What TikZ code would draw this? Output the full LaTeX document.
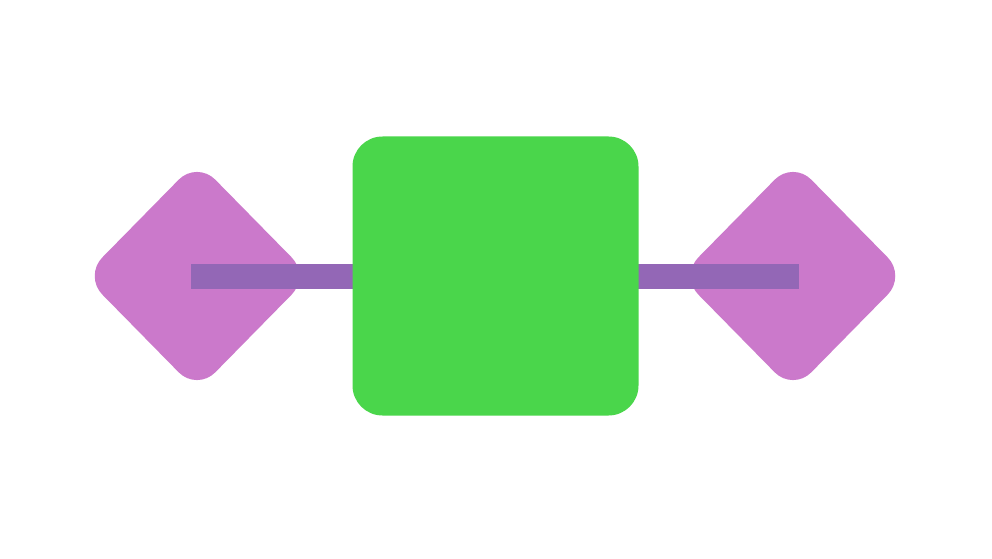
\documentclass[tikz,border=0pt]{standalone}
\usetikzlibrary{shapes.geometric}
\definecolor{pinkfill}{HTML}{CB79CB}
\definecolor{barcol}{HTML}{9367B6}
\definecolor{greenfill}{HTML}{4AD64B}
\tikzset{
  gem/.style={diamond, fill=pinkfill, draw=none, inner sep=0pt, minimum width=226pt, minimum height=230pt, rounded corners=26pt},
  bar/.style={draw=barcol, line width=25pt, line cap=butt},
  block/.style={rectangle, fill=greenfill, draw=none, inner sep=0pt, minimum width=286pt, minimum height=279pt, rounded corners=30pt}
}
\begin{document}
\begin{tikzpicture}[x=1pt,y=1pt]
\useasboundingbox[fill=white] (0,0) rectangle (992,558);
\node[gem] (L) at (197,282) {};
\node[gem] (R) at (793,282) {};
\draw[bar, shorten <=-6pt, shorten >=-6pt] (L.center) -- (R.center);
\node[block] (C) at (495.5,282) {};
\end{tikzpicture}
\end{document}
